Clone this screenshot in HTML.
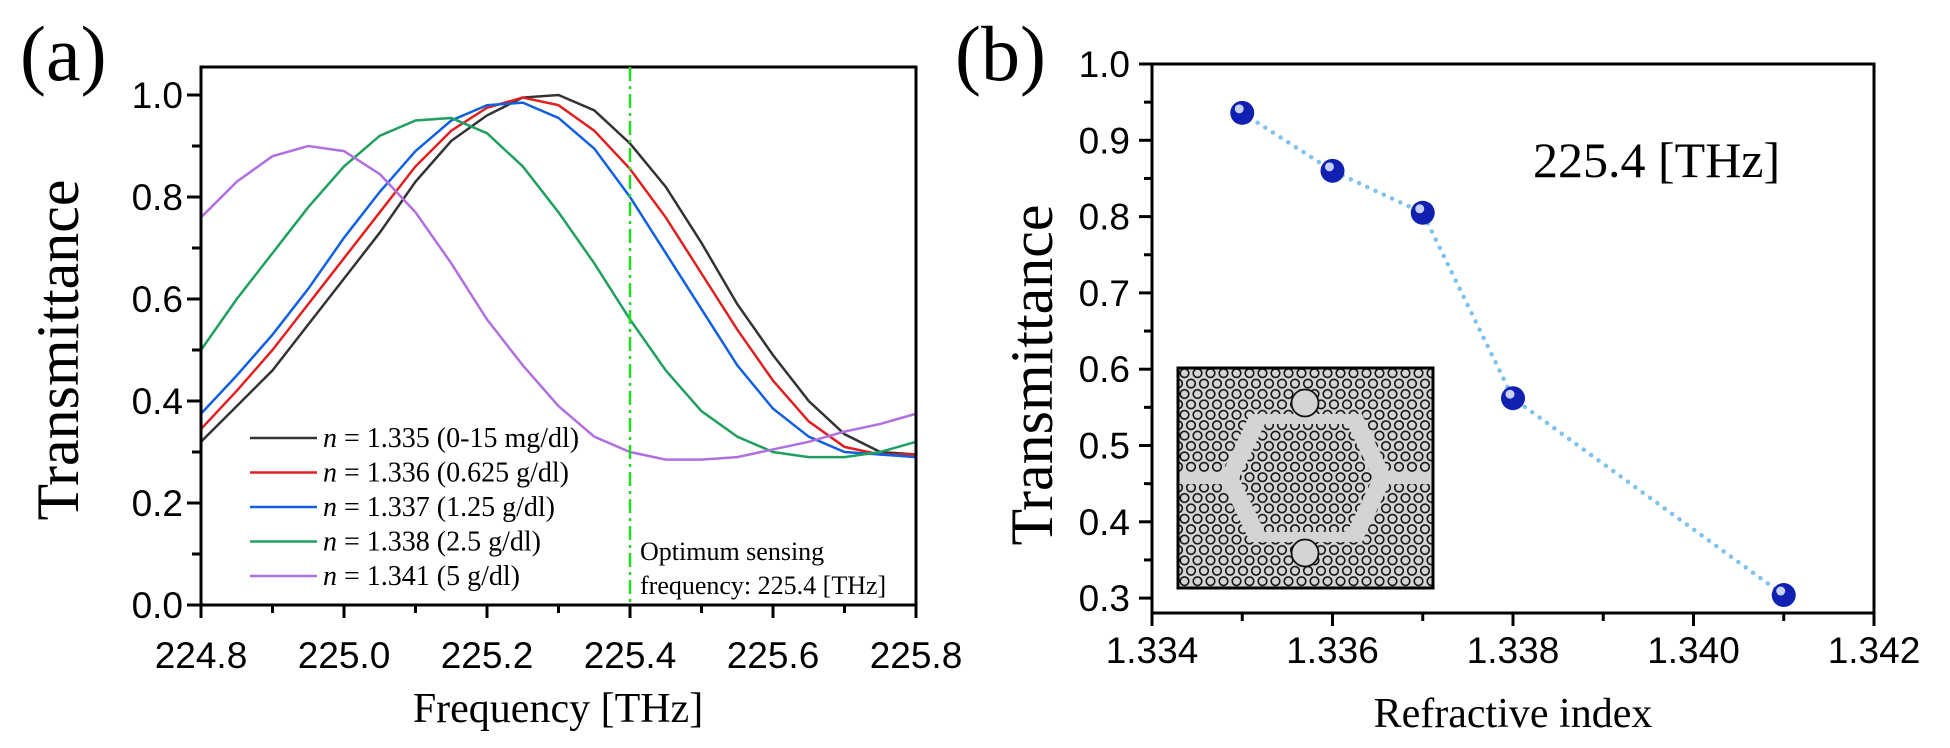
<!DOCTYPE html>
<html><head><meta charset="utf-8"><style>
html,body{margin:0;padding:0;background:#fff;width:1950px;height:748px;overflow:hidden}
svg text{fill:#000}
.s{font-family:"Liberation Sans",sans-serif;font-size:37px}
.r{font-family:"Liberation Serif",serif}
</style></head><body>
<svg id="svg" width="1950" height="748" viewBox="0 0 1950 748" xmlns="http://www.w3.org/2000/svg">
<defs>
<pattern id="holes" x="1178" y="368" width="13" height="20.8" patternUnits="userSpaceOnUse">
<rect width="13" height="20.8" fill="#d4d4d4"/>
<circle cx="6.5" cy="5.2" r="4.3" fill="none" stroke="#111" stroke-width="1.6"/>
<circle cx="0" cy="15.6" r="4.3" fill="none" stroke="#111" stroke-width="1.6"/>
<circle cx="13" cy="15.6" r="4.3" fill="none" stroke="#111" stroke-width="1.6"/>
</pattern>
</defs>
<text x="20" y="80" class="r" font-size="78">(a)</text>
<text x="955" y="80" class="r" font-size="78">(b)</text>

<g id="pa"></g>
<rect x="201" y="67" width="715" height="538" fill="none" stroke="#000" stroke-width="3"/>
<line x1="630" y1="67" x2="630" y2="605" stroke="#22dd22" stroke-width="2.5" stroke-dasharray="14 5 3 5"/>
<text transform="translate(78,350) rotate(-90)" text-anchor="middle" class="r" font-size="60">Transmittance</text>
<text x="558" y="722" text-anchor="middle" class="r" font-size="42">Frequency [THz]</text>
<text x="640" y="560" class="r" font-size="26">Optimum sensing</text>
<text x="640" y="594" class="r" font-size="26">frequency: 225.4 [THz]</text>
<g id="leg" class="r" font-size="28"></g>

<rect x="1152" y="64" width="722" height="549" fill="none" stroke="#000" stroke-width="3"/>
<text transform="translate(1052,375) rotate(-90)" text-anchor="middle" class="r" font-size="60">Transmittance</text>
<text x="1513" y="727" text-anchor="middle" class="r" font-size="42">Refractive index</text>
<text x="1533" y="177" class="r" font-size="50">225.4 [THz]</text>
<rect x="1178" y="368" width="255" height="220" fill="url(#holes)"/>
<polygon points="1250,414 1362,414 1392,478 1362,542 1250,542 1220,478" fill="#d4d4d4"/>
<rect x="1178" y="472" width="255" height="12" fill="#d4d4d4"/>
<polygon points="1265,424 1347,424 1373,478 1347,532 1265,532 1239,478" fill="url(#holes)"/>
<circle cx="1305" cy="403" r="13.5" fill="#d4d4d4" stroke="#111" stroke-width="1.8"/>
<circle cx="1305" cy="553" r="13.5" fill="#d4d4d4" stroke="#111" stroke-width="1.8"/>
<rect x="1178" y="368" width="255" height="220" fill="none" stroke="#000" stroke-width="3"/>
<g id="pb"></g>
</svg>
<script>
const NS="http://www.w3.org/2000/svg";
function el(p,t,a,txt){const e=document.createElementNS(NS,t);for(const k in a)e.setAttribute(k,a[k]);if(txt!==undefined)e.textContent=txt;p.appendChild(e);return e;}
const pa=document.getElementById('pa');
const ax=f=>201+(f-224.8)*715, ay=v=>605-v*510;
for(let i=0;i<=10;i++){const y=ay(i*0.1);el(pa,'line',{x1:201,x2:i%2?192:187,y1:y,y2:y,stroke:'#000','stroke-width':3});
 if(i%2==0)el(pa,'text',{x:183,y:y+13,'text-anchor':'end',class:'s'},(i/10).toFixed(1));}
for(let i=0;i<=10;i++){const x=ax(224.8+i*0.1);el(pa,'line',{x1:x,x2:x,y1:605,y2:i%2?613:618,stroke:'#000','stroke-width':3});
 if(i%2==0)el(pa,'text',{x:x,y:668,'text-anchor':'middle',class:'s'},(224.8+i*0.1).toFixed(1));}
const D={
'#333333':[0.32,0.39,0.46,0.55,0.64,0.73,0.83,0.91,0.96,0.995,1.0,0.97,0.905,0.82,0.71,0.59,0.49,0.40,0.335,0.30,0.295],
'#e02020':[0.345,0.42,0.5,0.59,0.68,0.77,0.86,0.93,0.975,0.995,0.98,0.93,0.855,0.76,0.65,0.54,0.44,0.36,0.31,0.295,0.295],
'#1060e0':[0.375,0.45,0.53,0.62,0.72,0.81,0.89,0.95,0.98,0.985,0.955,0.895,0.80,0.69,0.58,0.47,0.385,0.33,0.30,0.295,0.29],
'#20a060':[0.50,0.60,0.69,0.78,0.86,0.92,0.95,0.955,0.925,0.86,0.77,0.67,0.56,0.46,0.38,0.33,0.30,0.29,0.29,0.30,0.32],
'#b070e0':[0.76,0.83,0.88,0.90,0.89,0.845,0.77,0.67,0.56,0.47,0.39,0.33,0.30,0.285,0.285,0.29,0.305,0.32,0.34,0.355,0.375]};
for(const c in D){el(pa,'polyline',{points:D[c].map((v,i)=>ax(224.8+i*0.05)+','+ay(v)).join(' '),fill:'none',stroke:c,'stroke-width':2.5});}
const leg=document.getElementById('leg');
const L=[['#333333','1.335 (0-15 mg/dl)'],['#e02020','1.336 (0.625 g/dl)'],['#1060e0','1.337 (1.25 g/dl)'],['#20a060','1.338 (2.5 g/dl)'],['#b070e0','1.341 (5 g/dl)']];
L.forEach((l,i)=>{const y=438+i*34.5;el(leg,'line',{x1:250,x2:317,y1:y,y2:y,stroke:l[0],'stroke-width':2.5});
 const t=el(leg,'text',{x:323,y:y+9});el(t,'tspan',{'font-style':'italic'},'n');el(t,'tspan',{},' = '+l[1]);});
const pb=document.getElementById('pb');
const bx=n=>1152+(n-1.334)*90250, by=v=>64+(1-v)*763;
for(let i=0;i<=14;i++){const v=0.3+i*0.05,y=by(v);el(pb,'line',{x1:1152,x2:i%2?1144:1139,y1:y,y2:y,stroke:'#000','stroke-width':3});
 if(i%2==0)el(pb,'text',{x:1130,y:y+13,'text-anchor':'end',class:'s'},v.toFixed(1));}
for(let i=0;i<=8;i++){const x=bx(1.334+i*0.001);el(pb,'line',{x1:x,x2:x,y1:613,y2:i%2?621:626,stroke:'#000','stroke-width':3});
 if(i%2==0)el(pb,'text',{x:x,y:663,'text-anchor':'middle',class:'s'},(1.334+i*0.001).toFixed(3));}
const P=[[1.335,0.936],[1.336,0.86],[1.337,0.805],[1.338,0.562],[1.341,0.304]];
el(pb,'polyline',{points:P.map(p=>bx(p[0])+','+by(p[1])).join(' '),fill:'none',stroke:'#80c4ec','stroke-width':4.5,'stroke-dasharray':'0.1 9','stroke-linecap':'round'});
P.forEach(p=>{const x=bx(p[0]),y=by(p[1]);el(pb,'circle',{cx:x,cy:y,r:12,fill:'#1020b0'});el(pb,'circle',{cx:x-3,cy:y-4,r:4.5,fill:'#c8d0ff'});});
</script>
</body></html>
